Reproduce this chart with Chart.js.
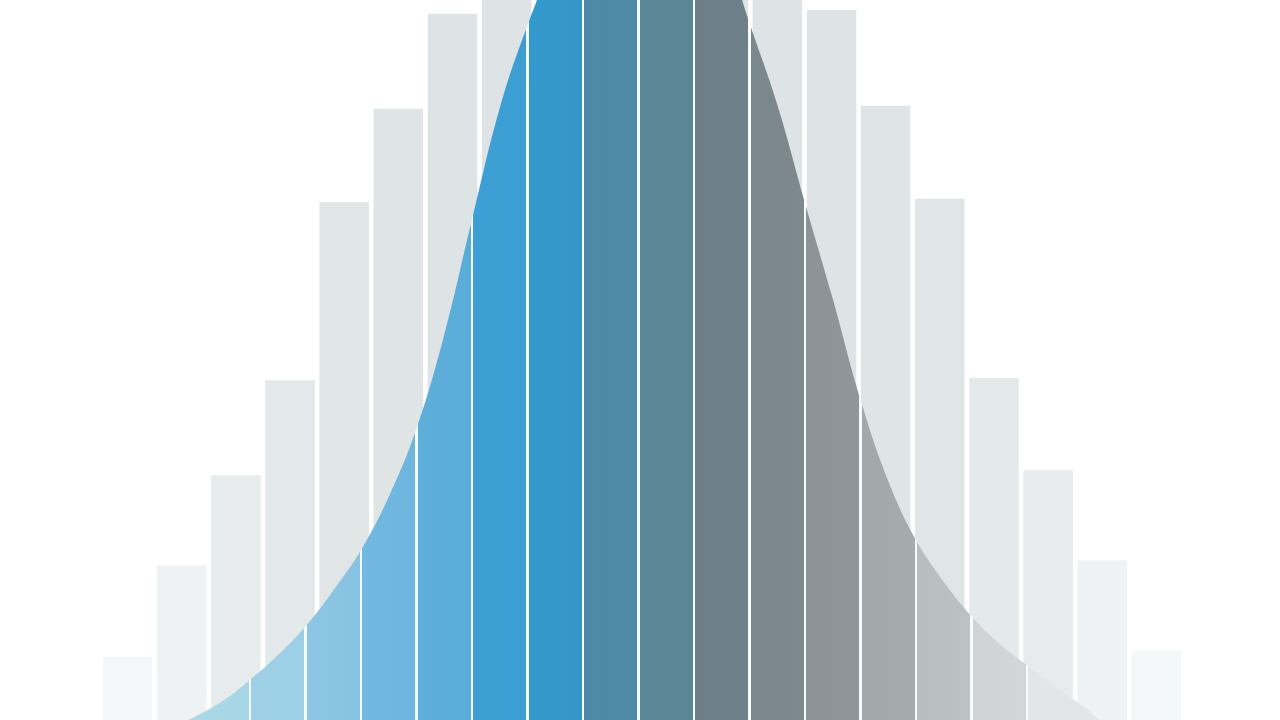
<!DOCTYPE html>
<html>
<head>
<meta charset="utf-8">
<script src="https://cdn.jsdelivr.net/npm/chart.js@4.4.1/dist/chart.umd.min.js"></script>
<style>
  html, body { margin: 0; padding: 0; background: #ffffff; }
  #wrap { width: 1280px; height: 720px; position: relative; }
</style>
</head>
<body>
<div id="wrap"><canvas id="c"></canvas></div>
<script>
// ---- data ----
const categories = ['1','2','3','4','5','6','7','8','9','10','11','12','13','14','15','16','17','18','19','20'];
const barValues  = [8.8, 21.5, 34.0, 47.2, 71.9, 84.9, 98.1, 104, 110, 114, 115, 111, 103, 98.6, 85.3, 72.4, 47.5, 34.7, 22.2, 9.7];

// bell curve samples: position (in coloured-band units) and height
const curveX = [-0.1, 0, 0.5, 1, 1.5, 2, 2.5, 3, 3.5, 4, 4.5, 5, 5.5, 6, 6.5, 7, 7.5, 8, 8.5, 9, 9.5, 10, 10.5, 11, 11.5, 12, 12.5, 13, 13.5, 14, 14.5, 15, 15.5, 16, 16.3];
const curveY = [0, 0.4, 2.6, 5.6, 9.0, 13.0, 18.0, 23.6, 31.0, 40.5, 53.5, 69.5, 85.0, 96.5, 106, 114.5, 120.5, 123.5, 122.5, 117.5, 108.5, 96.8, 85.5, 71.8, 58.5, 44.5, 33.2, 25.0, 19.2, 14.4, 10.6, 7.6, 4.6, 2.0, 0];

// ---- styles ----
const barColors = ['#f4f7f7','#eef2f3','#e8eced','#e3e8ea','#e0e5e6','#dfe4e5','#dee3e5','#dee3e5','#dee3e5','#dee3e5',
                   '#dee3e5','#dee3e5','#dee3e5','#dee3e5','#dfe4e6','#e0e5e7','#e4e9ea','#e7ebec','#eef2f3','#f5f8f8'];
const bandColors = ['#a9d8e7','#9fd0e6','#8cc6e3','#72b8e0','#5eafd9','#3e9fd5','#3399cc','#4c89a8',
                    '#5a8898','#6c7f88','#7a878c','#8c9398','#a2a8aa','#b8bdbe','#cfd3d3','#e2e6e7'];
const stripeColor = '#f6fbfd';

function hexToRgb(h) {
  const n = parseInt(h.slice(1), 16);
  return [(n >> 16) & 255, (n >> 8) & 255, n & 255];
}
function mix(a, b, t) {
  const A = hexToRgb(a), B = hexToRgb(b);
  const r = A.map((v, i) => Math.round(v + (B[i] - v) * t));
  return 'rgb(' + r.join(',') + ')';
}

function curveFill(context) {
  const chart = context.chart;
  const area = chart.chartArea;
  const xs = chart.scales && chart.scales.xc;
  if (!area || !xs) return bandColors[6];
  const g = chart.ctx.createLinearGradient(area.left, 0, area.right, 0);
  const w = area.right - area.left;
  const off = px => Math.min(1, Math.max(0, (px - area.left) / w));
  const half = 1.2;
  const n = bandColors.length;
  g.addColorStop(0, bandColors[0]);
  for (let j = 0; j < n; j++) {
    const a = xs.getPixelForValue(j);
    const b = xs.getPixelForValue(j + 1);
    const c = bandColors[j];
    const next = bandColors[Math.min(n - 1, j + 1)];
    g.addColorStop(off(j === 0 ? a : a + half), c);
    g.addColorStop(off(b - half), j < n - 1 ? mix(c, next, 0.18) : c);
    if (j < n - 1) {
      g.addColorStop(off(b - half), stripeColor);
      g.addColorStop(off(b + half), stripeColor);
    }
  }
  g.addColorStop(1, bandColors[n - 1]);
  return g;
}

const curvePoints = curveX.map((x, i) => ({ x: x, y: curveY[i] }));

new Chart(document.getElementById('c'), {
  type: 'bar',
  data: {
    labels: categories,
    datasets: [
      {
        type: 'line',
        label: 'curve',
        data: curvePoints,
        xAxisID: 'xc',
        yAxisID: 'y',
        order: 0,
        fill: 'origin',
        backgroundColor: curveFill,
        borderWidth: 0,
        borderColor: 'rgba(0,0,0,0)',
        pointRadius: 0,
        tension: 0.4
      },
      {
        type: 'bar',
        label: 'bars',
        data: barValues,
        xAxisID: 'x',
        yAxisID: 'y',
        order: 1,
        grouped: false,
        backgroundColor: barColors,
        borderWidth: 0,
        barPercentage: 0.914,
        categoryPercentage: 1.0
      }
    ]
  },
  options: {
    responsive: true,
    maintainAspectRatio: false,
    animation: false,
    layout: { padding: { left: 100.5, right: 96.5, top: 0, bottom: 0 } },
    plugins: { legend: { display: false }, tooltip: { enabled: false } },
    scales: {
      x: { type: 'category', display: false, offset: true, grid: { display: false } },
      xc: { type: 'linear', display: false, offset: false, bounds: 'data', min: -1.694, max: 17.82, grid: { display: false, offset: false } },
      y: { display: false, min: 0, max: 100, grid: { display: false } }
    }
  }
});
</script>
</body>
</html>
